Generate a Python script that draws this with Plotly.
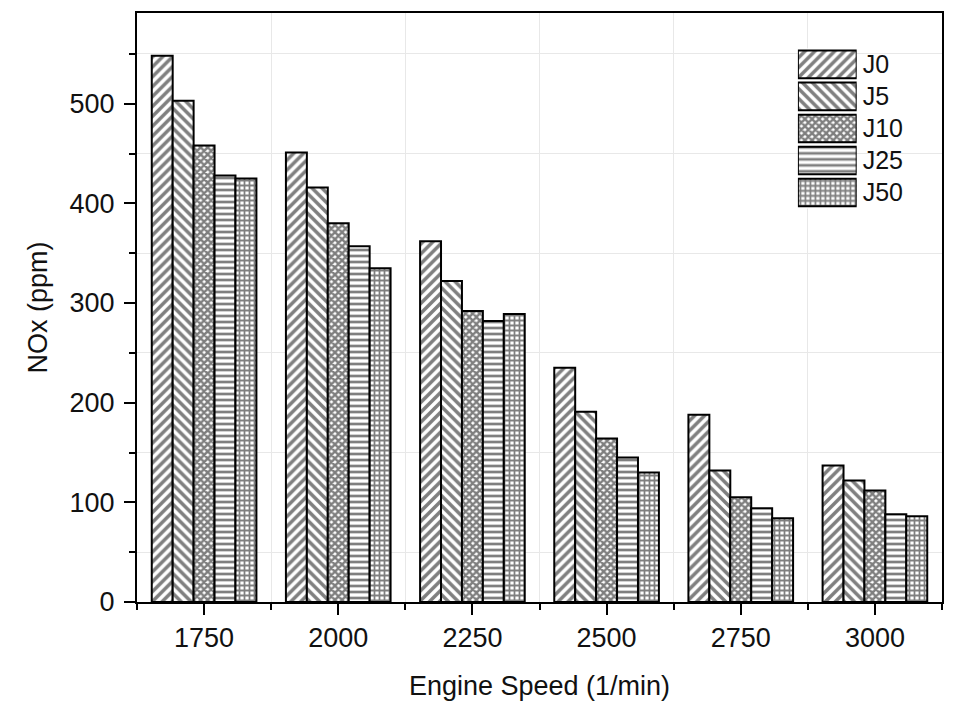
import numpy as np
import plotly.graph_objects as go

speeds = ["1750", "2000", "2250", "2500", "2750", "3000"]
series_names = ["J0", "J5", "J10", "J25", "J50"]
j0 = [548, 451, 362, 235, 188, 137]
j5 = [503, 416, 322, 191, 132, 122]
j10 = [458, 380, 292, 164, 105, 112]
j25 = [428, 357, 282, 145, 94, 88]
j50 = [425, 335, 289, 130, 84, 86]
series_values = [j0, j5, j10, j25, j50]

pattern_shapes = ["/", "\\", "x", "-", "+"]
pattern_sizes = [7, 7, 5, 6, 5]
pattern_solidity = [0.5, 0.5, 0.72, 0.45, 0.58]

pos = np.arange(len(speeds))
font_family = "Liberation Sans, Arial, sans-serif"
ink = "#000000"

fig = go.Figure()
for name, vals, shp, sz, so in zip(series_names, series_values, pattern_shapes,
                                   pattern_sizes, pattern_solidity):
    fig.add_trace(go.Bar(
        x=pos, y=vals, name=name, showlegend=False,
        marker=dict(
            color="white",
            line=dict(color=ink, width=2),
            pattern=dict(shape=shp, size=sz, solidity=so, fgcolor=ink,
                         bgcolor="white", fillmode="overlay"),
        ),
    ))

# legend key: one large patterned swatch per series, labelled on the right
fig.add_trace(go.Bar(
    y=series_names, x=[1] * len(series_names), orientation="h",
    width=0.86, xaxis="x2", yaxis="y2", showlegend=False, hoverinfo="skip",
    marker=dict(
        color="white",
        line=dict(color=ink, width=2),
        pattern=dict(shape=pattern_shapes, size=pattern_sizes,
                     solidity=pattern_solidity, fgcolor=ink,
                     bgcolor="white", fillmode="overlay"),
    ),
))

fig.update_layout(
    width=956, height=696,
    margin=dict(l=129, r=22, t=3, b=102),
    paper_bgcolor="white", plot_bgcolor="white",
    barmode="group", bargap=0.22, bargroupgap=0,
    font=dict(family=font_family, size=27, color="#111111"),
    xaxis=dict(
        range=[-0.5, len(speeds) - 0.5],
        tickmode="array", tickvals=pos, ticktext=speeds,
        ticks="outside", ticklen=11, tickwidth=2, tickcolor=ink,
        showline=True, linecolor=ink, linewidth=2, mirror=True,
        showgrid=False, zeroline=False,
        minor=dict(tick0=0.5, dtick=1, ticks="outside", ticklen=6, tickwidth=2,
                   tickcolor=ink, showgrid=True, gridcolor="#e8e8e8", gridwidth=1),
        title=dict(text="Engine Speed (1/min)", font=dict(size=27), standoff=24),
        tickfont=dict(size=27),
    ),
    yaxis=dict(
        range=[0, 591], dtick=100, tick0=0,
        ticks="outside", ticklen=11, tickwidth=2, tickcolor=ink,
        showline=True, linecolor=ink, linewidth=2, mirror=True,
        showgrid=False, zeroline=False, ticklabelstandoff=4,
        minor=dict(dtick=50, ticks="outside", ticklen=6, tickwidth=2,
                   tickcolor=ink, showgrid=True, gridcolor="#e8e8e8", gridwidth=1),
        title=dict(text="NOx (ppm)", font=dict(size=27), standoff=14),
        tickfont=dict(size=27),
    ),
    xaxis2=dict(domain=[0.821, 0.894], range=[0, 1], anchor="y2",
                visible=False, fixedrange=True),
    yaxis2=dict(domain=[0.668, 0.94], anchor="x2", side="right",
                autorange="reversed", type="category",
                showline=False, showgrid=False, zeroline=False, ticks="",
                tickfont=dict(size=25, color="#111111"), ticklabelstandoff=5,
                fixedrange=True),
)

fig.write_html("out.html")
